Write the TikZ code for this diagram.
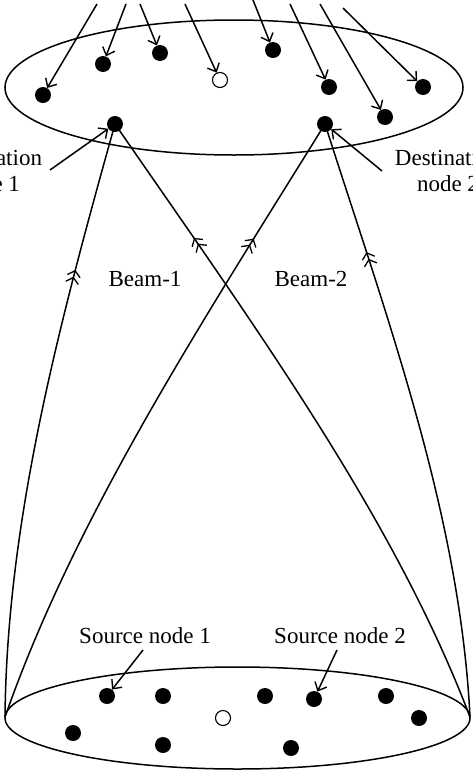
\documentclass[tikz,border=0pt]{standalone}
\usepackage{fontspec}
\setmainfont{Liberation Serif}
\usetikzlibrary{arrows.meta,decorations.markings}
\tikzset{
  dot/.style={circle,fill=black,inner sep=0pt,minimum size=16pt},
  odot/.style={circle,draw=black,fill=white,line width=1.1pt,inner sep=0pt,minimum size=15pt},
  ln/.style={line width=1.5pt},
  arr/.style={ln,-{Straight Barb[length=7pt,width=13pt,line width=1.4pt]}},
  lbl/.style={font=\fontsize{23}{26}\selectfont,inner sep=0pt},
  chev/.style={decoration={markings,mark=at position #1 with {\arrow{Straight Barb[length=5.5pt,width=13pt,line width=1.3pt]Straight Barb[length=5.5pt,width=13pt,line width=1.3pt]}}},postaction={decorate}}
}
\begin{document}
\begin{tikzpicture}[x=1pt,y=-1pt]
\useasboundingbox (0,0) rectangle (473,772);
\clip (0,0) rectangle (473,772);
% ellipses
\draw[ln] (234,87.5) ellipse [x radius=229pt, y radius=67.5pt];
\draw[ln] (237.5,718) ellipse [x radius=232.5pt, y radius=51pt];
% top dots
\node[dot] (t1) at (43,95) {};
\node[dot] (t2) at (103,64) {};
\node[dot] (t3) at (160,53) {};
\node[odot] (t4) at (220,80) {};
\node[dot] (t5) at (273,50) {};
\node[dot] (t6) at (329,87) {};
\node[dot] (t7) at (385,117) {};
\node[dot] (t8) at (423,87) {};
\node[dot] (d1) at (115,124) {};
\node[dot] (d2) at (325,124) {};
% incoming arrows
\coordinate (a1) at (97,4);
\coordinate (a2) at (126,4);
\coordinate (a3) at (140,4);
\coordinate (a4) at (185,4);
\coordinate (a5) at (251,-5);
\coordinate (a6) at (290,4);
\coordinate (a7) at (320,4);
\coordinate (a8) at (343,8);
\draw[arr] (a1) -- (t1);
\draw[arr] (a2) -- (t2);
\draw[arr] (a3) -- (t3);
\draw[arr] (a4) -- (t4);
\draw[arr] (a5) -- (t5);
\draw[arr] (a6) -- (t6);
\draw[arr] (a7) -- (t7);
\draw[arr] (a8) -- (t8);
% bottom dots
\node[dot] (s1) at (107,696) {};
\node[dot] (b2) at (163,696) {};
\node[dot] (b3) at (265,696) {};
\node[dot] (s2) at (314,699) {};
\node[dot] (b5) at (386,696) {};
\node[dot] (b6) at (419,718) {};
\node[dot] (b7) at (73,733) {};
\node[dot] (b8) at (163,745) {};
\node[odot] (b9) at (223,718) {};
\node[dot] (b10) at (291,748) {};
% beams
\coordinate (bl) at (5,717);
\coordinate (br) at (470,717);
\draw[ln,chev=0.75] (bl) .. controls (7,520) and (59,324) .. (d1.center);
\draw[ln,chev=0.80] (bl) .. controls (75,517) and (201,324) .. (d2.center);
\draw[ln,chev=0.80] (br) .. controls (394,517) and (253,324) .. (d1.center);
\draw[ln,chev=0.78] (br) .. controls (460,517) and (389,324) .. (d2.center);
% labels
\node[lbl,anchor=base] (beam1) at (145,286) {Beam-1};
\node[lbl,anchor=base] (beam2) at (311,286) {Beam-2};
\node[lbl,anchor=base] (src1) at (145,643) {Source node 1};
\node[lbl,anchor=base] (src2) at (340,643) {Source node 2};
\node[lbl,anchor=base,align=center] (dst1) at (-11,191) {Destination\\node 1};
\node[lbl,anchor=base,align=center] (dst2) at (448,191) {Destination\\node 2};
% label arrows
\coordinate (l1) at (50,170);
\coordinate (l2) at (382,171);
\coordinate (l3) at (143,650);
\coordinate (l4) at (337,650);
\draw[arr] (l1) -- (d1);
\draw[arr] (l2) -- (d2);
\draw[arr] (l3) -- (s1);
\draw[arr] (l4) -- (s2);
\end{tikzpicture}
\end{document}
